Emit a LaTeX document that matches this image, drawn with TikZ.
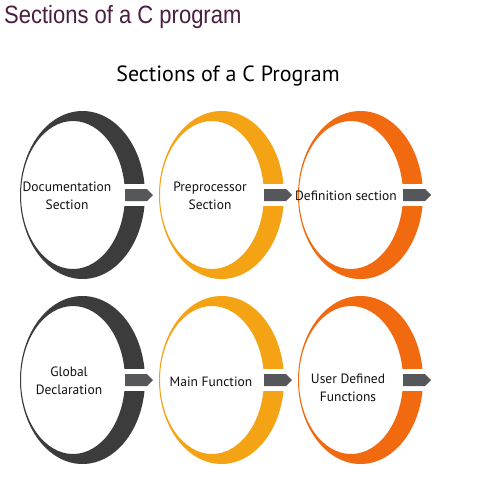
\documentclass[tikz,border=0pt]{standalone}
\usepackage{fontspec}
\setmainfont{PT Sans}
\newfontfamily\headfont[FakeStretch=0.88]{Liberation Sans}
\usepackage{xcolor}
\usepackage{tikz}
\usetikzlibrary{positioning}

\definecolor{ringgray}{HTML}{3C3C3C}
\definecolor{ringyellow}{HTML}{F4A314}
\definecolor{ringorange}{HTML}{F26A10}
\definecolor{arrowgray}{HTML}{56575A}
\definecolor{textgray}{HTML}{111111}
\definecolor{headpurple}{HTML}{4A1F42}

\begin{document}
\begin{tikzpicture}
	[x=1pt,y=-1pt,
	every node/.style={align=center,text=textgray,inner sep=1pt,font=\fontsize{13.5}{18.5}\selectfont},
	pagetitle/.style={anchor=west,text=headpurple,font=\headfont\fontsize{25}{28}\selectfont},
	charttitle/.style={text=black,font=\fontsize{22}{26}\selectfont},
	pointer/.style={fill=arrowgray}]
	\useasboundingbox[fill=white] (0,0) rectangle (490,490);
	\node[pagetitle] (page) at (3,17) {Sections of a C program};
	\node[charttitle] (chart) at (228,76) {Sections of a C Program};
	% one crescent, gap and pointer per section
	\foreach \cx/\cy/\col/\name/\tx/\ty/\txt in {
		73/195/ringgray/doc/67/196/{Documentation\\Section},
		212/195/ringyellow/prep/210/196/{Preprocessor\\Section},
		351/195/ringorange/defn/346/196/{Definition section},
		73/380/ringgray/glob/69/381/{Global\\Declaration},
		212/380/ringyellow/main/211/382/{Main Function},
		351/380/ringorange/user/348/388/{User Defined\\Functions}}
	{
		\fill[\col,even odd rule] (\cx+9.5,\cy) ellipse [x radius=62.5,y radius=84]
			(\cx,\cy) ellipse [x radius=52,y radius=74];
		\fill[white] (\cx+45,\cy-11) rectangle (\cx+76,\cy+11);
		\fill[pointer] (\cx+52,\cy-6) -- (\cx+74,\cy-6) -- (\cx+80,\cy)
			-- (\cx+74,\cy+6) -- (\cx+52,\cy+6) -- cycle;
		\node (\name) at (\tx,\ty) {\txt};
	}
\end{tikzpicture}
\end{document}
